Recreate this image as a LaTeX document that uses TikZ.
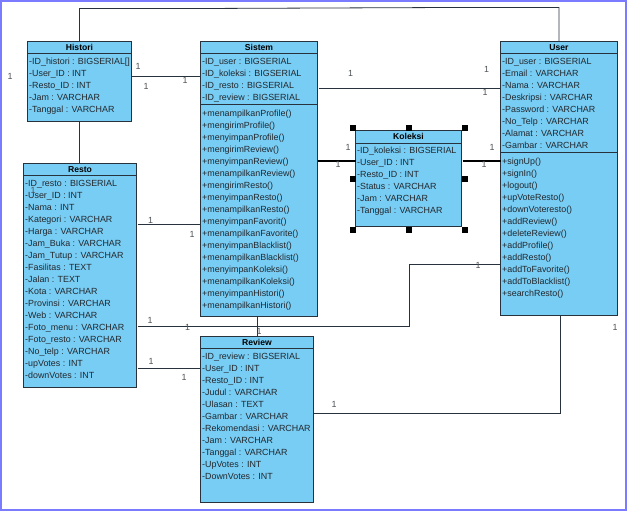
\documentclass[tikz,border=0pt]{standalone}
\usepackage{fontspec}
\setmainfont{Liberation Sans}
\definecolor{boxblue}{RGB}{120,205,245}
\definecolor{framecol}{RGB}{123,123,255}
\definecolor{linecol}{RGB}{40,50,60}
\definecolor{textcol}{RGB}{35,40,45}
\tikzset{
    classbox/.style={draw=linecol, fill=boxblue, line width=0.9pt, inner sep=0pt, outer sep=0pt, anchor=north west},
    titletext/.style={font=\fontsize{8.6}{10}\selectfont\bfseries, text=black, inner sep=0pt},
    rowtext/.style={font=\fontsize{8.9}{10}\selectfont, text=textcol, inner sep=0pt, anchor=base west, yshift=-3.4pt},
    onelabel/.style={font=\fontsize{8.9}{10}\selectfont, text=textcol!80, inner sep=0pt},
    handle/.style={fill=black, inner sep=0pt, minimum size=6pt},
    link/.style={draw=linecol, line width=0.8pt},
    gaplink/.style={link, shorten <=1.2pt},
    boldlink/.style={draw=black, line width=2pt}
}
% one row of text per entry, 12 apart
\newcommand{\rows}[4]{
    \foreach \t [count=\i] in {#4} {
        \node [rowtext] (#1\i) at (#2, {#3+12*(\i-1)}) {\t};
    }
}
\begin{document}
\begin{tikzpicture}[x=1pt, y=-1pt]
    \useasboundingbox (0,0) rectangle (627,511);
    \fill [white] (0,0) rectangle (627,511);
    \draw [framecol, line width=2pt] (1,1) rectangle (626,510);

    % Draw class boxes
    \node [classbox, minimum width=104pt, minimum height=79.5pt] (histori) at (27.5,41.5) {};
    \node [classbox, minimum width=117pt, minimum height=274.5pt] (sistem) at (200.5,41.5) {};
    \node [classbox, minimum width=106pt, minimum height=95.5pt] (koleksi) at (355.5,130.5) {};
    \node [classbox, minimum width=117pt, minimum height=274pt] (user) at (500.5,41.5) {};
    \node [classbox, minimum width=113pt, minimum height=224pt] (resto) at (23.5,163.5) {};
    \node [classbox, minimum width=113pt, minimum height=165.5pt] (review) at (200.5,336.5) {};

    % Titles and compartments
    \foreach \n/\t/\y in {histori/Histori/53.5, sistem/Sistem/53.5, koleksi/Koleksi/143.5,
                          user/User/53.5, resto/Resto/175.5, review/Review/348.5} {
        \node [titletext, anchor=base] (\n title) at ([yshift=-9.2pt]\n.north) {\t};
        \draw [link] (\n.west |- 0,\y) -- (\n.east |- 0,\y);
    }
    \draw [link] (sistem.west |- 0,104.5) -- (sistem.east |- 0,104.5);
    \draw [link] (user.west |- 0,152.5) -- (user.east |- 0,152.5);

    % Draw rows
    \rows{historiA}{29}{61.5}{-ID\_histori : BIGSERIAL[], -User\_ID : INT, -Resto\_ID : INT, -Jam : VARCHAR, -Tanggal : VARCHAR}
    \rows{sistemA}{202}{61.5}{-ID\_user : BIGSERIAL, -ID\_koleksi : BIGSERIAL, -ID\_resto : BIGSERIAL, -ID\_review : BIGSERIAL}
    \rows{sistemB}{202}{113}{+menampilkanProfile(), +mengirimProfile(), +menyimpanProfile(), +mengirimReview(), +menyimpanReview(), +menampilkanReview(), +mengirimResto(), +menyimpanResto(), +menampilkanResto(), +menyimpanFavorit(), +menampilkanFavorite(), +menyimpanBlacklist(), +menampilkanBlacklist(), +menyimpanKoleksi(), +menampilkanKoleksi(), +menyimpanHistori(), +menampilkanHistori()}
    \rows{koleksiA}{357}{150.5}{-ID\_koleksi : BIGSERIAL, -User\_ID : INT, -Resto\_ID : INT, -Status : VARCHAR, -Jam : VARCHAR, -Tanggal : VARCHAR}
    \rows{userA}{502}{61.5}{-ID\_user : BIGSERIAL, -Email : VARCHAR, -Nama : VARCHAR, -Deskripsi : VARCHAR, -Password : VARCHAR, -No\_Telp : VARCHAR, -Alamat : VARCHAR, -Gambar : VARCHAR}
    \rows{userB}{502}{161}{+signUp(), +signIn(), +logout(), +upVoteResto(), +downVoteresto(), +addReview(), +deleteReview(), +addProfile(), +addResto(), +addToFavorite(), +addToBlacklist(), +searchResto()}
    \rows{restoA}{25}{183.5}{-ID\_resto : BIGSERIAL, -User\_ID : INT, -Nama : INT, -Kategori : VARCHAR, -Harga : VARCHAR, -Jam\_Buka : VARCHAR, -Jam\_Tutup : VARCHAR, -Fasilitas : TEXT, -Jalan : TEXT, -Kota : VARCHAR, -Provinsi : VARCHAR, -Web : VARCHAR, -Foto\_menu : VARCHAR, -Foto\_resto : VARCHAR, -No\_telp : VARCHAR, -upVotes : INT, -downVotes : INT}
    \rows{reviewA}{202}{356.5}{-ID\_review : BIGSERIAL, -User\_ID : INT, -Resto\_ID : INT, -Judul : VARCHAR, -Ulasan : TEXT, -Gambar : VARCHAR, -Rekomendasi : VARCHAR, -Jam : VARCHAR, -Tanggal : VARCHAR, -UpVotes : INT, -DownVotes : INT}

    % Selection handles of Koleksi
    \foreach \x/\y [count=\i] in {353/128, 409/128, 465/128, 353/179, 465/179, 353/230, 409/230, 465/230} {
        \node [handle] (handle\i) at (\x,\y) {};
    }

    % Draw links
    \coordinate (topLeft) at (200,8.5);
    \coordinate (topRight) at (450,7.5);
    \coordinate (userPort) at (560.5,0);
    \coordinate (rowHS) at (0,76.5);
    \coordinate (rowSU) at (0,88.5);
    \coordinate (rowK) at (0,160.5);
    \coordinate (rowRS) at (0,224.5);
    \coordinate (rowRU) at (0,326);
    \coordinate (rowUR) at (0,264.5);
    \coordinate (rowRR) at (0,368.5);
    \coordinate (rowVU) at (0,413.5);
    \coordinate (bendRU) at (409.5,0);
    \draw [link] (histori.north) |- (topLeft) -- (topRight) -| (user.north);
    \draw [gaplink] (histori.south) -- (resto.north -| histori.south);
    \draw [link] (histori.east |- rowHS) -- (sistem.west |- rowHS);
    \draw [gaplink] (sistem.east |- rowSU) -- (user.west |- rowSU);
    \draw [boldlink] (sistem.east |- rowK) -- (koleksi.west |- rowK);
    \draw [boldlink, shorten <=1.2pt] (koleksi.east |- rowK) -- (user.west |- rowK);
    \draw [gaplink] (resto.east |- rowRS) -- (sistem.west |- rowRS);
    \draw [gaplink] (resto.east |- rowRU) -| (bendRU |- rowUR) -- (user.west |- rowUR);
    \draw [link] (sistem.south -| review.north) -- (review.north);
    \draw [gaplink] (resto.east |- rowRR) -- (review.west |- rowRR);
    \draw [link] (review.east |- rowVU) -| (user.south -| userPort);

    % Multiplicities
    \foreach \x/\y [count=\i] in {10/76.5, 138/66, 146/86, 185/80, 33/190, 150.5/220, 192/234,
            150/320, 187.5/327, 259/331, 151/361, 184/377, 350.5/73.5, 486.5/69, 485/92,
            348/147, 338/164, 492/147, 484/164, 478/265, 615/327, 334/404} {
        \node [onelabel] (one\i) at (\x,\y) {1};
    }
\end{tikzpicture}
\end{document}
